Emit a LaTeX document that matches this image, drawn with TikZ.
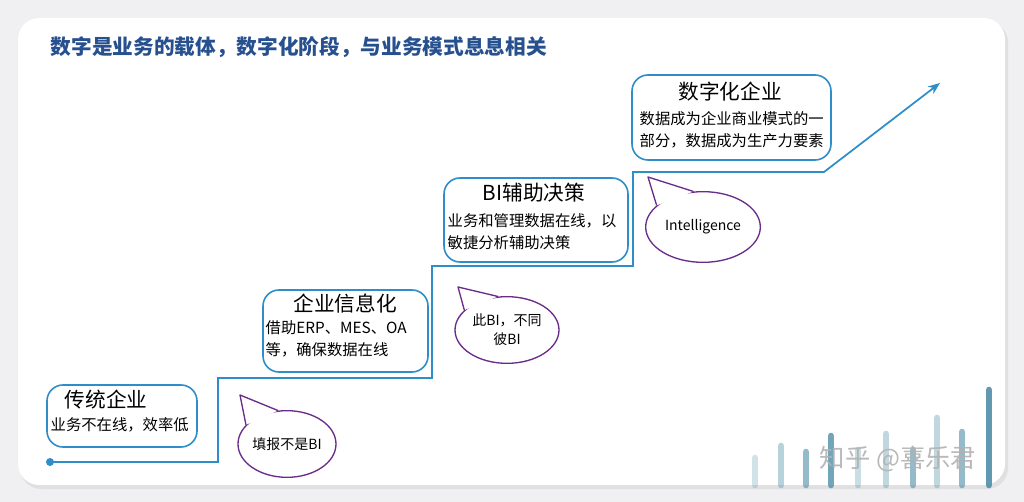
\documentclass[tikz,border=0pt]{standalone}
\usepackage{fontspec}
\setmainfont{Noto Sans CJK SC}
\usetikzlibrary{shapes.geometric,arrows.meta}
\definecolor{stepblue}{HTML}{2F8DC8}
\definecolor{titleblue}{HTML}{27508F}
\definecolor{bubblepurple}{HTML}{6A2C8A}
\definecolor{bgray}{HTML}{F0F0F2}
\definecolor{barc}{HTML}{4F8FA8}
\tikzset{
  stagebox/.style={draw=stepblue,line width=1.2pt,rounded corners=12pt,fill=white},
  bubble/.style={ellipse,draw=bubblepurple,line width=1pt,fill=white,inner sep=0pt,font=\fontsize{10.5}{14}\selectfont},
  ttl/.style={font=\fontsize{15.5}{18}\selectfont,anchor=center},
  sub/.style={font=\fontsize{11.5}{16.5}\selectfont,anchor=west,align=left},
}
\begin{document}
\begin{tikzpicture}[x=0.75pt,y=-0.75pt]
\useasboundingbox (0,0) rectangle (1024,502);
\fill[bgray] (0,0) rectangle (1024,502);
\fill[black!12,rounded corners=16pt] (20,21) rectangle (1008,489);
\fill[white,rounded corners=16pt] (18,18) rectangle (1005,485);
% watermark bars
\foreach \x/\t/\o in {755/458/0.25,781/446/0.4,806/452/0.6,831/436/0.8,858/450/0.3,886/434/0.35,913/450/0.6,937/418/0.35,962/432/0.6,989/390/0.9}{
  \draw[barc,opacity=\o,line width=5pt,line cap=round] (\x,\t) -- (\x,485);
}
\node[text=black!30,opacity=0.9,font=\fontsize{19}{22}\selectfont] (wm) at (898,459) {知乎 @喜乐君};
\node[anchor=west,text=titleblue,font=\fontsize{15.5}{18}\selectfont\bfseries] (title) at (46,47) {数字是业务的载体，数字化阶段，与业务模式息息相关};
% staircase
\coordinate (s0) at (50,462);
\coordinate (s1) at (218,462);
\coordinate (s2) at (218,378);
\coordinate (s3) at (432,378);
\coordinate (s4) at (432,266);
\coordinate (s5) at (633,266);
\coordinate (s6) at (633,172);
\coordinate (s7) at (824,172);
\coordinate (s8) at (940,83);
\draw[stepblue,line width=1.3pt,-{Stealth[length=9pt,width=7pt]}] (s0)--(s1)--(s2)--(s3)--(s4)--(s5)--(s6)--(s7)--(s8);
\fill[stepblue] (s0) circle (4);
% boxes
\draw[stagebox] (47,385) rectangle (197,447);
\node[ttl] (t1) at (106,400) {传统企业};
\node[sub] (d1) at (46,425) {业务不在线，效率低};
\draw[stagebox] (263,290) rectangle (428,372);
\node[ttl] (t2) at (345,304) {企业信息化};
\node[sub] (d2) at (261,339) {借助ERP、MES、OA\\等，确保数据在线};
\draw[stagebox] (444,178) rectangle (628,262);
\node[ttl] (t3) at (534,193) {BI辅助决策};
\node[sub] (d3) at (443,232) {业务和管理数据在线，以\\敏捷分析辅助决策};
\draw[stagebox] (632,75) rectangle (831,160);
\node[ttl] (t4) at (730,92) {数字化企业};
\node[sub] (d4) at (635,130) {数据成为企业商业模式的一\\部分，数据成为生产力要素};
% bubbles
\node[bubble,minimum width=72,minimum height=50] (b1) at (287,444) {填报不是BI};
\coordinate (k1) at (240,395);
\node[bubble,minimum width=78,minimum height=50,align=center] (b2) at (507,330) {此BI，不同\\彼BI};
\coordinate (k2) at (458,287);
\node[bubble,minimum width=86,minimum height=53] (b3) at (703,227) {Intelligence};
\coordinate (k3) at (648,177);
\foreach \b/\k in {b1/k1,b2/k2,b3/k3}{
  \fill[white] (\b.105) -- (\k) -- (\b.155) -- cycle;
  \draw[bubblepurple,line width=1pt,line join=round] (\b.105) -- (\k) -- (\b.155);
}
\end{tikzpicture}
\end{document}
